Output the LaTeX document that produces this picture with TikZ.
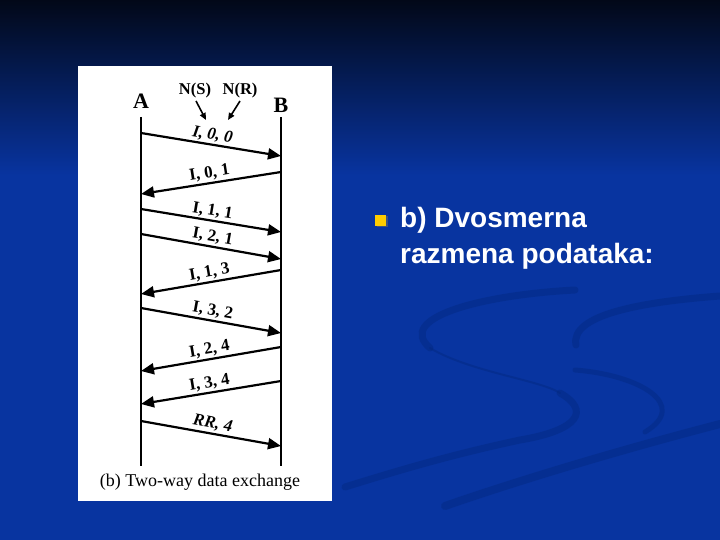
\documentclass[tikz,border=0pt]{standalone}
\usepackage{fontspec}
\setmainfont{Liberation Serif}
\newfontfamily\slidesans{Liberation Sans}
\usetikzlibrary{arrows.meta}
\definecolor{bgblue}{HTML}{0834A0}
\definecolor{bgdark}{HTML}{020818}
\definecolor{swirl}{HTML}{03287F}
\definecolor{bullety}{HTML}{FFCC00}
\begin{document}
\begin{tikzpicture}[x=1pt,y=-1pt,
  lifeline/.style={line width=2.6pt},
  msg/.style={line width=2.2pt,-{Triangle[length=13pt,width=11pt]}},
  msglabel/.style={font=\bfseries\fontsize{17}{17}\selectfont,above,sloped,inner sep=1.5pt},
  pointer/.style={line width=1.6pt,-{Triangle[length=7pt,width=6pt]}},
  hdr/.style={font=\bfseries\fontsize{22}{22}\selectfont,inner sep=0pt},
  fieldlbl/.style={font=\bfseries\fontsize{16.5}{16.5}\selectfont,inner sep=0pt},
  slidetext/.style={font=\slidesans\bfseries\fontsize{28}{28}\selectfont,text=white,anchor=base west,inner sep=0pt}]
\useasboundingbox (0,0) rectangle (720,540);
% background
\fill[bgblue] (0,0) rectangle (720,540);
\shade[top color=bgdark,bottom color=bgblue] (0,0) rectangle (720,175);
% swirls
\begin{scope}[swirl,line cap=round,opacity=0.45]
\draw[line width=7pt] (575,290) .. controls (480,295) and (395,318) .. (430,348);
\draw[line width=2pt] (430,348) .. controls (470,372) and (540,380) .. (560,393);
\draw[line width=7pt] (560,393) .. controls (590,410) and (580,430) .. (520,440) .. controls (450,455) and (400,470) .. (345,487);
\draw[line width=7pt] (720,296) .. controls (640,302) and (570,315) .. (576,345);
\draw[line width=5pt] (575,370) .. controls (640,375) and (690,405) .. (645,432);
\draw[line width=8pt] (720,424) .. controls (620,450) and (520,480) .. (445,506);
\end{scope}
% white panel
\fill[white] (78,66) rectangle (332,501);
% headers
\node[hdr] (A) at (141,101) {A};
\node[hdr] (B) at (281,105) {B};
\node[fieldlbl] (ns) at (195,91) {N(S)};
\node[fieldlbl] (nr) at (240,91) {N(R)};
% lifelines
\coordinate (Atop) at (141,117);
\coordinate (Abot) at (141,466);
\coordinate (Btop) at (281,117);
\coordinate (Bbot) at (281,466);
\draw[lifeline] (Atop) -- (Abot);
\draw[lifeline] (Btop) -- (Bbot);
% message end points
\foreach \n/\y in {a1/133,a3/209,a4/234,b5/294,a6/308,b7/371,b8/404,a9/421}{\coordinate (\n) at (141,\y);}
\foreach \n/\y in {b1/156,b2/172,b3/232,b4/259,b5s/270,b6/333,b7s/347,b8s/381,b9/446}{\coordinate (\n) at (281,\y);}
\coordinate (a2) at (141,194);
% messages
\draw[msg] (a1) -- node[msglabel] (l1) {\textit{I, 0, 0}} (b1);
\draw[msg] (b2) -- node[msglabel] (l2) {I, 0, 1} (a2);
\draw[msg] (a3) -- node[msglabel] (l3) {I, 1, 1} (b3);
\draw[msg] (a4) -- node[msglabel] (l4) {I, 2, 1} (b4);
\draw[msg] (b5s) -- node[msglabel] (l5) {I, 1, 3} (b5);
\draw[msg] (a6) -- node[msglabel] (l6) {I, 3, 2} (b6);
\draw[msg] (b7s) -- node[msglabel] (l7) {I, 2, 4} (b7);
\draw[msg] (b8s) -- node[msglabel] (l8) {I, 3, 4} (b8);
\draw[msg] (a9) -- node[msglabel] (l9) {\textit{RR, 4}} (b9);
% pointers
\coordinate (nsend) at (206,120);
\coordinate (nrend) at (228,120);
\draw[pointer] (196,101) -- (nsend);
\draw[pointer] (240,101) -- (nrend);
% caption
\node[font=\fontsize{18}{18}\selectfont,inner sep=0pt] (cap) at (200,482) {(b) Two-way data exchange};
% slide text
\fill[black!60,opacity=0.6] (376.5,216.5) rectangle (387.5,227.5);
\fill[bullety] (375,215) rectangle (386,226);
\node[slidetext] (t1) at (400,227) {b) Dvosmerna};
\node[slidetext] (t2) at (400,263) {razmena podataka:};
\end{tikzpicture}
\end{document}
